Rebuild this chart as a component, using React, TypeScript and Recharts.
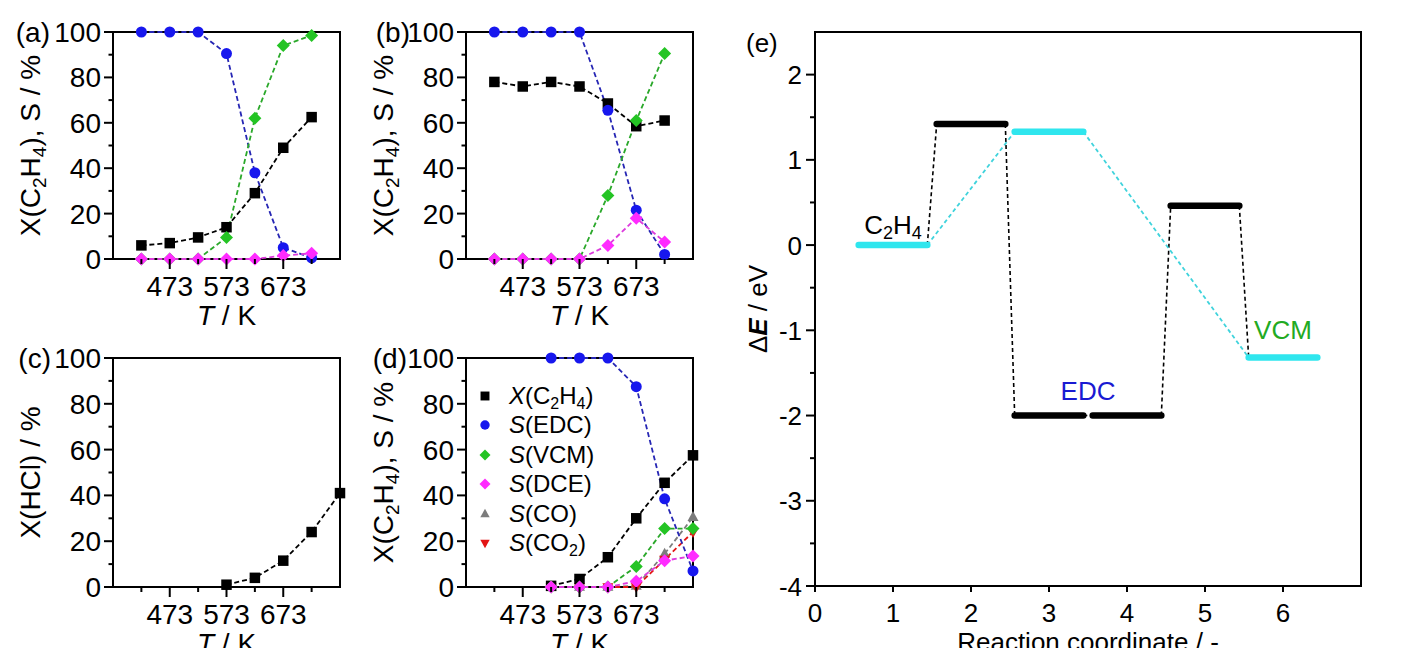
import React from 'react';
import { LineChart, Line, XAxis, YAxis, ReferenceArea, ReferenceDot, Label, Legend } from 'recharts';

const SANS = '"Liberation Sans", Arial, Helvetica, sans-serif';

// temperature grids, K
const tempsAB = [423, 473, 523, 573, 623, 673, 723];
const tempsC = [573, 623, 673, 723, 773];
const tempsD = [523, 573, 623, 673, 723, 773];
const tempTicks = [423, 473, 523, 573, 623, 673, 723];
const tempLabels = [473, 573, 673];
const pctTicks = [0, 10, 20, 30, 40, 50, 60, 70, 80, 90, 100];
const pctLabels = [0, 20, 40, 60, 80, 100];

// (a)
const aConvC2H4 = [6, 7, 9.5, 14, 29, 49, 62.5];
const aSelEDC = [100, 100, 100, 90.5, 38, 5, 0.5];
const aSelVCM = [0, 0, 0, 9.5, 62, 94, 98.5];
const aSelDCE = [0, 0, 0, 0, 0, 1.5, 2.5];

// (b)
const bConvC2H4 = [78, 76, 78, 76, 68.5, 58.5, 61];
const bSelEDC = [100, 100, 100, 100, 65.5, 21.5, 2];
const bSelVCM = [0, 0, 0, 0, 28, 61, 90.5];
const bSelDCE = [0, 0, 0, 0, 6, 18, 7.5];

// (c)
const cConvHCl = [1, 4, 11.5, 24, 41];

// (d)
const dConvC2H4 = [0.5, 3.5, 13, 30, 45.5, 57.5];
const dSelEDC = [100, 100, 100, 87.5, 38.5, 7];
const dSelVCM = [0, 0, 0, 9, 25.5, 25.5];
const dSelDCE = [0, 0, 0, 2.5, 11.5, 13.5];
const dSelCO = [0, 0, 0, 0.5, 14.5, 30.5];
const dSelCO2 = [0, 0, 0, 0, 12, 24];

// (e) energy profile, eV
const edcRouteStep = [1, 2, 3, 4, 5, 6];
const edcRouteEnergy = [0, 1.42, -2.0, -2.0, 0.46, -1.32];
const vcmRouteStep = [1, 3, 6];
const vcmRouteEnergy = [0, 1.33, -1.32];
const coordTicks = [0, 1, 2, 3, 4, 5, 6];
const energyTicks = [-4, -3.5, -3, -2.5, -2, -1.5, -1, -0.5, 0, 0.5, 1, 1.5, 2];
const halfLevel = 0.44;

type Shape = 'square' | 'circle' | 'diamond' | 'up' | 'down';

interface Style { color: string; line: string; shape: Shape; size: number }

const STYLES: Record<string, Style> = {
  conv: { color: '#000000', line: '#000000', shape: 'square', size: 10.5 },
  edc: { color: '#1717ee', line: '#2626b4', shape: 'circle', size: 11 },
  vcm: { color: '#24c424', line: '#2aa82a', shape: 'diamond', size: 10 },
  dce: { color: '#ff2bff', line: '#dd3cdd', shape: 'diamond', size: 10 },
  co: { color: '#7c7c7c', line: '#7c7c7c', shape: 'up', size: 11 },
  co2: { color: '#e31515', line: '#e31515', shape: 'down', size: 11 },
};

const FS = 28; // text size in the small panels
const EFS = 26; // text size in the energy diagram

function Marker({ shape, cx, cy, size, fill }: { shape: Shape; cx: number; cy: number; size: number; fill: string }) {
  if (cx == null || cy == null) return null;
  const h = size / 2;
  if (shape === 'square') return <rect x={cx - h} y={cy - h} width={size} height={size} fill={fill} />;
  if (shape === 'circle') return <circle cx={cx} cy={cy} r={h} fill={fill} />;
  if (shape === 'diamond') {
    const d = h * 1.3;
    return <polygon points={`${cx},${cy - d} ${cx + d},${cy} ${cx},${cy + d} ${cx - d},${cy}`} fill={fill} />;
  }
  if (shape === 'up') {
    return <polygon points={`${cx},${cy - h * 1.1} ${cx + h},${cy + h * 0.7} ${cx - h},${cy + h * 0.7}`} fill={fill} />;
  }
  return <polygon points={`${cx},${cy + h * 1.1} ${cx + h},${cy - h * 0.7} ${cx - h},${cy - h * 0.7}`} fill={fill} />;
}

const renderTempTick = (p: any) => {
  const major = tempLabels.includes(p.payload.value);
  return (
    <g>
      <line x1={p.x} x2={p.x} y1={p.y} y2={p.y + (major ? 10 : 5)} stroke="#000" strokeWidth={2} />
      {major && (
        <text x={p.x} y={p.y + 37} textAnchor="middle" fontSize={FS} fontFamily={SANS} fill="#000">
          {p.payload.value}
        </text>
      )}
    </g>
  );
};

const renderPctTick = (p: any) => {
  const major = pctLabels.includes(p.payload.value);
  return (
    <g>
      <line x1={p.x} x2={p.x - (major ? 9 : 4.5)} y1={p.y} y2={p.y} stroke="#000" strokeWidth={2} />
      {major && (
        <text x={p.x - 12} y={p.y + 10} textAnchor="end" fontSize={FS} fontFamily={SANS} fill="#000">
          {p.payload.value}
        </text>
      )}
    </g>
  );
};

const sub = (s: string) => (
  <tspan fontSize={19} dy={6}>{s}</tspan>
);

// y title "X(C2H4), S / %"
const convSelTitle = (
  <>
    <tspan>X(C</tspan>
    {sub('2')}
    <tspan dy={-6}>H</tspan>
    {sub('4')}
    <tspan dy={-6}>), S / %</tspan>
  </>
);

const hclTitle = <tspan>X(HCl) / %</tspan>;

function subCss(): React.CSSProperties {
  return { fontSize: 16, verticalAlign: 'baseline', position: 'relative', top: 5, lineHeight: 0 };
}

const legendRows: { style: Style; text: React.ReactNode }[] = [
  { style: STYLES.conv, text: <><i>X</i>(C<sub style={subCss()}>2</sub>H<sub style={subCss()}>4</sub>)</> },
  { style: STYLES.edc, text: <><i>S</i>(EDC)</> },
  { style: STYLES.vcm, text: <><i>S</i>(VCM)</> },
  { style: STYLES.dce, text: <><i>S</i>(DCE)</> },
  { style: STYLES.co, text: <><i>S</i>(CO)</> },
  { style: STYLES.co2, text: <><i>S</i>(CO<sub style={subCss()}>2</sub>)</> },
];

function DLegend() {
  return (
    <div style={{ fontFamily: SANS, fontSize: 24, color: '#000' }}>
      {legendRows.map((r, i) => (
        <div key={i} style={{ display: 'flex', alignItems: 'center', height: 29.5 }}>
          <svg width={24} height={24} style={{ flex: 'none' }}>
            <Marker shape={r.style.shape} cx={12} cy={12} size={r.style.size * 0.85} fill={r.style.color} />
          </svg>
          <span style={{ marginLeft: 12, lineHeight: '24px', whiteSpace: 'nowrap' }}>{r.text}</span>
        </div>
      ))}
    </div>
  );
}

interface Series { key: string; values: number[]; style: Style }

interface PanelProps {
  left: number;
  top: number;
  plotHeight: number;
  temps: number[];
  series: Series[];
  tag: string;
  tagEnd: number;
  title: React.ReactNode;
  legend?: boolean;
}

function TempPanel({ left, top, plotHeight, temps, series, tag, tagEnd, title, legend }: PanelProps) {
  const rows = temps.map((t, i) => {
    const r: Record<string, number> = { t };
    series.forEach((s) => {
      r[s.key] = s.values[i];
    });
    return r;
  });
  const axisHeight = 72;
  return (
    <div style={{ position: 'absolute', left, top }}>
      <LineChart width={360} height={32 + plotHeight + axisHeight} data={rows} margin={{ top: 32, right: 20, bottom: 0, left: 0 }}>
        <XAxis
          dataKey="t"
          type="number"
          domain={[373, 773]}
          ticks={tempTicks}
          interval={0}
          tick={renderTempTick}
          tickSize={0}
          tickMargin={0}
          tickLine={false}
          axisLine={false}
          height={axisHeight}
        >
          <Label
            content={(p: any) => (
              <text
                x={p.viewBox.x + p.viewBox.width / 2}
                y={p.viewBox.y + 66}
                textAnchor="middle"
                fontSize={FS}
                fontFamily={SANS}
                fill="#000"
              >
                <tspan fontStyle="italic">T</tspan> / K
              </text>
            )}
          />
        </XAxis>
        <YAxis
          type="number"
          domain={[0, 100]}
          ticks={pctTicks}
          interval={0}
          tick={renderPctTick}
          tickSize={0}
          tickMargin={0}
          tickLine={false}
          axisLine={false}
          width={113}
        >
          <Label
            content={(p: any) => {
              const cy = p.viewBox.y + p.viewBox.height / 2;
              const bx = p.viewBox.x + 40;
              return (
                <g>
                  <text
                    x={bx}
                    y={cy}
                    transform={`rotate(-90, ${bx}, ${cy})`}
                    textAnchor="middle"
                    fontSize={FS}
                    fontFamily={SANS}
                    fill="#000"
                  >
                    {title}
                  </text>
                  <text x={p.viewBox.x + tagEnd} y={p.viewBox.y + 10} textAnchor="end" fontSize={FS} fontFamily={SANS} fill="#000">
                    {tag}
                  </text>
                </g>
              );
            }}
          />
        </YAxis>
        <ReferenceArea x1={373} x2={773} y1={0} y2={100} fill="none" fillOpacity={0} stroke="#000" strokeWidth={2} />
        {series.map((s) => (
          <Line
            key={s.key}
            dataKey={s.key}
            stroke={s.style.line}
            strokeWidth={1.8}
            strokeDasharray="5 3"
            isAnimationActive={false}
            activeDot={false}
            dot={(d: any) => (
              <Marker key={`${s.key}-${d.index}`} shape={s.style.shape} cx={d.cx} cy={d.cy} size={s.style.size} fill={s.style.color} />
            )}
          />
        ))}
        {legend && (
          <Legend
            layout="vertical"
            align="center"
            verticalAlign="middle"
            wrapperStyle={{ left: 120, top: 55, width: 220, height: 180 }}
            content={() => <DLegend />}
          />
        )}
      </LineChart>
    </div>
  );
}

type Pt = { x: number; e: number };

const levelSegs = (steps: number[], energies: number[]): Pt[][] =>
  steps.map((s, i) => [
    { x: s - halfLevel, e: energies[i] },
    { x: s + halfLevel, e: energies[i] },
  ]);

const linkSegs = (steps: number[], energies: number[]): Pt[][] =>
  steps.slice(1).map((s, i) => [
    { x: steps[i] + halfLevel, e: energies[i] },
    { x: s - halfLevel, e: energies[i + 1] },
  ]);

const renderCoordTick = (p: any) => (
  <g>
    <line x1={p.x} x2={p.x} y1={p.y} y2={p.y + 6} stroke="#000" strokeWidth={2} />
    <text x={p.x} y={p.y + 36} textAnchor="middle" fontSize={EFS} fontFamily={SANS} fill="#000">
      {p.payload.value}
    </text>
  </g>
);

const renderEnergyTick = (p: any) => {
  const major = Number.isInteger(p.payload.value);
  return (
    <g>
      <line x1={p.x} x2={p.x - (major ? 9 : 5)} y1={p.y} y2={p.y} stroke="#000" strokeWidth={2} />
      {major && (
        <text x={p.x - 13} y={p.y + 9.5} textAnchor="end" fontSize={EFS} fontFamily={SANS} fill="#000">
          {p.payload.value}
        </text>
      )}
    </g>
  );
};

function EnergyPanel() {
  const blackLevels = levelSegs(edcRouteStep.slice(1, -1), edcRouteEnergy.slice(1, -1));
  const blackLinks = linkSegs(edcRouteStep, edcRouteEnergy);
  const cyanLevels = levelSegs(vcmRouteStep, vcmRouteEnergy);
  const cyanLinks = linkSegs(vcmRouteStep, vcmRouteEnergy);
  const CYAN = '#2fe6ee';

  const seg = (pts: Pt[], id: string, color: string, width: number, dashed: boolean) => (
    <Line
      key={id}
      data={pts}
      dataKey="e"
      stroke={color}
      strokeWidth={width}
      strokeDasharray={dashed ? '4 3' : undefined}
      strokeLinecap={dashed ? 'butt' : 'round'}
      dot={false}
      activeDot={false}
      isAnimationActive={false}
    />
  );

  const labelText = (x: number, y: number, fill: string, body: React.ReactNode) => (
    <text x={x} y={y} textAnchor="middle" fontSize={EFS} fontFamily={SANS} fill={fill}>
      {body}
    </text>
  );

  return (
    <div style={{ position: 'absolute', left: 720, top: 0 }}>
      <LineChart width={693} height={660} margin={{ top: 32, right: 52, bottom: 0, left: 0 }}>
        <XAxis
          dataKey="x"
          type="number"
          domain={[0, 7]}
          ticks={coordTicks}
          interval={0}
          tick={renderCoordTick}
          tickSize={0}
          tickMargin={0}
          tickLine={false}
          axisLine={false}
          height={74}
        >
          <Label
            content={(p: any) => (
              <text
                x={p.viewBox.x + p.viewBox.width / 2}
                y={p.viewBox.y + 65}
                textAnchor="middle"
                fontSize={EFS}
                fontFamily={SANS}
                fill="#000"
              >
                Reaction coordinate / -
              </text>
            )}
          />
        </XAxis>
        <YAxis
          type="number"
          domain={[-4, 2.5]}
          ticks={energyTicks}
          interval={0}
          tick={renderEnergyTick}
          tickSize={0}
          tickMargin={0}
          tickLine={false}
          axisLine={false}
          width={95}
        >
          <Label
            content={(p: any) => {
              const bx = p.viewBox.x + 47;
              const cy = p.viewBox.y + p.viewBox.height / 2;
              return (
                <g>
                  <text
                    x={bx}
                    y={cy}
                    transform={`rotate(-90, ${bx}, ${cy})`}
                    textAnchor="middle"
                    fontSize={EFS}
                    fontFamily={SANS}
                    fill="#000"
                  >
                    Δ<tspan fontStyle="italic" fontWeight="bold">E</tspan> / eV
                  </text>
                  <text x={p.viewBox.x + 26} y={p.viewBox.y + 20} fontSize={EFS} fontFamily={SANS} fill="#000">
                    (e)
                  </text>
                </g>
              );
            }}
          />
        </YAxis>
        <ReferenceArea x1={0} x2={7} y1={-4} y2={2.5} fill="none" fillOpacity={0} stroke="#000" strokeWidth={2} />
        {blackLinks.map((pts, i) => seg(pts, `bl${i}`, '#000', 1.6, true))}
        {cyanLinks.map((pts, i) => seg(pts, `cl${i}`, '#3fd3dc', 1.8, true))}
        {cyanLevels.map((pts, i) => seg(pts, `cv${i}`, CYAN, 6.5, false))}
        {blackLevels.map((pts, i) => seg(pts, `bv${i}`, '#000', 6.5, false))}
        <ReferenceDot
          x={vcmRouteStep[0]}
          y={vcmRouteEnergy[0]}
          r={0}
          fill="none"
          stroke="none"
          label={(p: any) =>
            labelText(p.viewBox.x, p.viewBox.y - 11, '#000', (
              <>
                C<tspan fontSize={18} dy={5}>2</tspan>
                <tspan dy={-5}>H</tspan>
                <tspan fontSize={18} dy={5}>4</tspan>
              </>
            ))
          }
        />
        <ReferenceDot
          x={(edcRouteStep[2] + edcRouteStep[3]) / 2}
          y={edcRouteEnergy[2]}
          r={0}
          fill="none"
          stroke="none"
          label={(p: any) => labelText(p.viewBox.x, p.viewBox.y - 16, '#1a1ad2', 'EDC')}
        />
        <ReferenceDot
          x={vcmRouteStep[2]}
          y={vcmRouteEnergy[2]}
          r={0}
          fill="none"
          stroke="none"
          label={(p: any) => labelText(p.viewBox.x, p.viewBox.y - 19, '#22aa22', 'VCM')}
        />
      </LineChart>
    </div>
  );
}

export default function App() {
  return (
    <div style={{ position: 'absolute', left: 0, top: 0, width: 1413, height: 648, background: '#fff', overflow: 'hidden' }}>
      <TempPanel
        left={0}
        top={0}
        plotHeight={227}
        temps={tempsAB}
        tag="(a)"
        tagEnd={50}
        title={convSelTitle}
        series={[
          { key: 'conv', values: aConvC2H4, style: STYLES.conv },
          { key: 'edc', values: aSelEDC, style: STYLES.edc },
          { key: 'vcm', values: aSelVCM, style: STYLES.vcm },
          { key: 'dce', values: aSelDCE, style: STYLES.dce },
        ]}
      />
      <TempPanel
        left={353}
        top={0}
        plotHeight={227}
        temps={tempsAB}
        tag="(b)"
        tagEnd={57}
        title={convSelTitle}
        series={[
          { key: 'conv', values: bConvC2H4, style: STYLES.conv },
          { key: 'edc', values: bSelEDC, style: STYLES.edc },
          { key: 'vcm', values: bSelVCM, style: STYLES.vcm },
          { key: 'dce', values: bSelDCE, style: STYLES.dce },
        ]}
      />
      <TempPanel
        left={0}
        top={326}
        plotHeight={229}
        temps={tempsC}
        tag="(c)"
        tagEnd={51}
        title={hclTitle}
        series={[{ key: 'hcl', values: cConvHCl, style: STYLES.conv }]}
      />
      <TempPanel
        left={353}
        top={326}
        plotHeight={229}
        temps={tempsD}
        tag="(d)"
        tagEnd={54}
        title={convSelTitle}
        legend
        series={[
          { key: 'co', values: dSelCO, style: STYLES.co },
          { key: 'co2', values: dSelCO2, style: STYLES.co2 },
          { key: 'conv', values: dConvC2H4, style: STYLES.conv },
          { key: 'edc', values: dSelEDC, style: STYLES.edc },
          { key: 'vcm', values: dSelVCM, style: STYLES.vcm },
          { key: 'dce', values: dSelDCE, style: STYLES.dce },
        ]}
      />
      <EnergyPanel />
    </div>
  );
}
